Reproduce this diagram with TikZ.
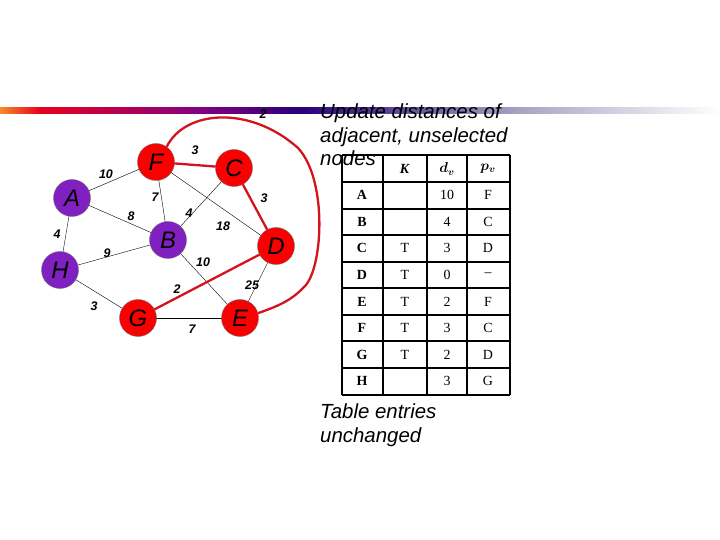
\documentclass[tikz,border=0pt]{standalone}
\usepackage{amsmath}
\usepackage{fontspec}
\setmainfont{Liberation Serif}
\setsansfont{Liberation Sans}
\definecolor{vred}{RGB}{250,0,0}
\definecolor{vpurple}{RGB}{128,32,192}
\definecolor{hotred}{RGB}{210,20,30}
\definecolor{barorange}{RGB}{245,140,40}
\definecolor{barred}{RGB}{232,0,30}
\definecolor{barpurple}{RGB}{130,0,130}
\definecolor{barnavy}{RGB}{40,0,120}
\definecolor{bargrey}{RGB}{165,165,195}

\begin{document}
\begin{tikzpicture}[x=1bp, y=-1bp]
\tikzset{
  vsel/.style={circle, draw=black!55, fill=vred, text=black, minimum size=37bp, inner sep=0pt,
    font=\sffamily\itshape\fontsize{24}{24}\selectfont},
  vopen/.style={vsel, fill=vpurple},
  plain/.style={thin},
  hot/.style={draw=hotred, line width=2.3bp},
  wt/.style={font=\sffamily\bfseries\itshape\fontsize{12.5}{12.5}\selectfont, inner sep=0pt},
  say/.style={font=\sffamily\itshape\fontsize{20.5}{24}\selectfont, anchor=base west, inner sep=0pt},
  cell/.style={font=\fontsize{14}{14}\selectfont, inner sep=0pt},
  rule/.style={line width=1.8bp}}

\useasboundingbox (0,0) rectangle (720,540);

% ---------------- title bar ----------------
\shade[left color=barorange, right color=barred]   (0,108)   rectangle (40,114);
\shade[left color=barred, right color=barpurple]   (40,108)  rectangle (200,114);
\shade[left color=barpurple, right color=barnavy]  (200,108) rectangle (300,114);
\shade[left color=barnavy, right color=bargrey]    (300,108) rectangle (520,114);
\shade[left color=bargrey, right color=white]      (520,108) rectangle (720,114);

% ---------------- graph ----------------
\coordinate (F) at (156,162);
\coordinate (C) at (234,168);
\coordinate (A) at (72,198);
\coordinate (B) at (168,240);
\coordinate (D) at (276,246);
\coordinate (H) at (60,270);
\coordinate (G) at (138,318);
\coordinate (E) at (240,318);

\draw[plain] (A) -- (F);
\draw[plain] (A) -- (B);
\draw[plain] (A) -- (H);
\draw[plain] (F) -- (B);
\draw[plain] (F) -- (D);
\draw[plain] (C) -- (B);
\draw[plain] (H) -- (B);
\draw[plain] (H) -- (G);
\draw[plain] (B) -- (E);
\draw[plain] (D) -- (E);
\draw[plain] (G) -- (E);
\draw[hot] (F) -- (C);
\draw[hot] (C) -- (D);
\draw[hot] (D) -- (G);

% the nodes go over the lines
\node[vsel]  (nF) at (F) {F};
\node[vsel]  (nC) at (C) {C};
\node[vopen] (nA) at (A) {A};
\node[vopen] (nB) at (B) {B};
\node[vsel]  (nD) at (D) {D};
\node[vopen] (nH) at (H) {H};
\node[vsel]  (nG) at (G) {G};
\node[vsel]  (nE) at (E) {E};

\draw[hot] (nF.55) .. controls (185,110) and (250,105) .. (298,148)
  .. controls (328,180) and (323,270) .. (304,287)
  .. controls (290,302) and (275,307) .. (nE.15);

\node[wt] (wFE) at (263,114) {2};
\node[wt] (wFC) at (195,150) {3};
\node[wt] (wAF) at (106,174) {10};
\node[wt] (wFB) at (155,197) {7};
\node[wt] (wCD) at (264,198) {3};
\node[wt] (wAB) at (131,216) {8};
\node[wt] (wCB) at (189,213) {4};
\node[wt] (wFD) at (223,226) {18};
\node[wt] (wAH) at (57,234)  {4};
\node[wt] (wHB) at (107,253) {9};
\node[wt] (wBE) at (203,262) {10};
\node[wt] (wDE) at (252,285) {25};
\node[wt] (wDG) at (177,289) {2};
\node[wt] (wHG) at (94,306)  {3};
\node[wt] (wGE) at (192,329) {7};

% ---------------- table ----------------
\foreach \y in {155,182,209,235,262,288,315,341,368,395}
  \draw[rule] (342,\y) -- (510,\y);
\foreach \x in {342,383,427,467,510}
  \draw[rule] (\x,155) -- (\x,395);

\node[cell] (hK) at (405,169) {\textbf{\textit{K}}};
\node[cell] (hd) at (447,169) {$\boldsymbol{d_v}$};
\node[cell] (hp) at (488,169) {$\boldsymbol{p_v}$};

\foreach \v/\k/\d/\p [count=\i] in {A//10/F, B//4/C, C/T/3/D, D/T/0/--, E/T/2/F, F/T/3/C, G/T/2/D, H//3/G} {
  \pgfmathsetmacro{\yy}{168.5+26.6*\i}
  \node[cell] (r\i) at (362,\yy) {\textbf{\v}};
  \node[cell] (k\i) at (405,\yy) {\k};
  \node[cell] (d\i) at (447,\yy) {\d};
  \node[cell] (p\i) at (488,\yy) {\p};
}

% ---------------- remarks ----------------
\node[say] (head1) at (320,119) {Update distances of};
\node[say] (head2) at (320,143) {adjacent, unselected};
\node[say] (head3) at (320,166) {nodes};
\node[say] (tail1) at (320,418) {Table entries};
\node[say] (tail2) at (320,442) {unchanged};
\end{tikzpicture}
\end{document}
